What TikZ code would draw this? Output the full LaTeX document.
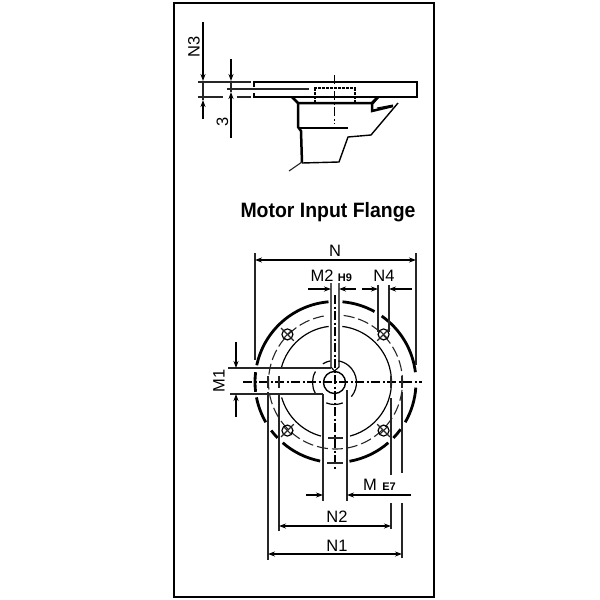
\documentclass[tikz,border=0pt]{standalone}
\usepackage{fontspec}
\setmainfont{Liberation Sans}
\usetikzlibrary{arrows.meta}
\tikzset{
	thin line/.style={line width=1.1pt,color=black!85},
	thick line/.style={line width=2.5pt},
	center line/.style={line width=1.1pt,dash pattern=on 9pt off 2.5pt on 2pt off 2.5pt},
	hidden line/.style={line width=1.1pt,dash pattern=on 2.5pt off 1.5pt},
	dim line/.style={line width=1.1pt,{Stealth[length=7pt,width=5pt]}-{Stealth[length=7pt,width=5pt]}},
	dim end/.style={line width=1.1pt,-{Stealth[length=7pt,width=5pt]}},
	dim label/.style={font=\fontsize{16.5}{16.5}\selectfont,inner sep=0pt},
	small label/.style={font=\fontsize{11}{11}\selectfont\bfseries,inner sep=0pt}
}
\begin{document}
\begin{tikzpicture}[x=1pt,y=-1pt]
	\useasboundingbox (0,0) rectangle (600,600);
	\draw [line width=1.4pt] (174,3) rectangle (434,597);
	% side view
	\draw [thick line] (254,87) -- (254,82) -- (417,82) -- (417,97) -- (254,97) -- (254,93);
	\draw [thick line] (292,97) -- (298,103) -- (372,103) -- (378,97);
	\draw [thick line] (298,103) -- (298,127) -- (301,131) -- (302,163);
	\draw [thick line] (378,97) -- (372,104) -- (372,111) -- (393,106);
	\draw [line width=1.5pt] (298,128) -- (348,128);
	\draw [line width=1.4pt] (302,163) -- (339,162) -- (348,137) -- (371,135) -- (398,103);
	\draw [line width=1pt] (377,108) -- (393,105);
	\draw [thin line] (302,162) -- (289,171);
	\draw [thin line] (198,82) -- (251,82);
	\draw [thin line] (227,89) -- (309,89);
	\draw [thin line] (198,97) -- (223,97);
	\draw [thin line] (237,97) -- (251,97);
	\draw [hidden line] (314,88) -- (356,88);
	\draw [hidden line] (315,88) -- (315,103);
	\draw [hidden line] (355,88) -- (355,103);
	\draw [center line] (334.5,75) -- (334.5,124);
	% N3 and 3
	\draw [dim end] (203,22) -- (203,81);
	\draw [dim end] (203,119) -- (203,100);
	\draw [thin line] (203,81) -- (203,100);
	\draw [dim end] (231,59) -- (231,81);
	\draw [dim end] (231,138) -- (231,92);
	\draw [thin line] (231,81) -- (231,92);
	\node (labelNthree) [dim label,rotate=90] at (194,47) {N3};
	\node (labelThree) [dim label,rotate=90] at (222.5,122) {3};
	% title
	\node (title) [font=\fontsize{20.8}{20.8}\selectfont\bfseries,inner sep=0pt,xscale=0.935] at (328,212) {Motor Input Flange};
	% front view
	\foreach \from/\to in {95/168,173/187,191/210,217/224,229/259,280/311,316/324,330/356,7/55,61/85} {
		\draw [line width=2.8pt] (335.5,382) ++(-\from:80.5) arc (-\from:-\to:80.5);
	}
	\draw [thin line,dash pattern=on 11pt off 4pt] (335.5,382) ++(277:67) arc (277:623:67);
	\foreach \from/\to in {97/165,196/255,285/443} {
		\draw [line width=1.2pt] (335.5,382) ++(-\from:56) arc (-\from:-\to:56);
	}
	\draw [line width=1.4pt] (334.5,382.5) circle (11);
	\foreach \from/\to in {320/440,101/122,150/210,248/292} {
		\draw [line width=1.2pt] (334.5,382.5) ++(-\from:22) arc (-\from:-\to:22);
	}
	\foreach \a in {45,135,225,315} {
		\draw [line width=1.2pt] (335.5,382.5) ++(\a:68) circle (5.5);
		\draw [thin line] (335.5,382.5) ++(\a:59) -- ++(\a:18);
		\draw [thin line] (335.5,382.5) ++(\a:68) ++(\a+90:5.5) -- ++(\a-90:11);
	}
	\draw [center line] (243,382) -- (422,382);
	\draw [center line] (335,295) -- (335,470);
	\draw [thin line] (327,463) -- (343,463);
	\draw [thin line] (328,438) -- (343,438);
	\foreach \tick in {268,279,391,402} {
		\draw [thin line] (\tick,376) -- (\tick,388);
	}
	% key way
	\draw [line width=1.1pt] (331,283) -- (331,367) -- (334.5,371) -- (339,367) -- (339,283);
	% M1
	\draw [thin line] (228,368) -- (331,368);
	\draw [thin line] (230,394) -- (323,394);
	\draw [dim end] (236,342) -- (236,368);
	\draw [dim end] (236,417) -- (236,394);
	\node (labelMone) [dim label,rotate=90] at (219,381) {M1};
	% N
	\draw [thin line] (255,253) -- (255,360);
	\draw [thin line] (416,253) -- (416,365);
	\draw [dim line] (255,260) -- (416,260);
	\node (labelN) [dim label] at (335,251) {N};
	% M2 H9
	\draw [dim end] (308,289) -- (331,289);
	\draw [dim end] (356,289) -- (339,289);
	\node (labelMtwo) [dim label] at (322,276) {M2};
	\node (labelHnine) [small label] at (345,278) {H9};
	% N4
	\draw [thin line] (378,285) -- (378,332);
	\draw [thin line] (389,285) -- (389,332);
	\draw [dim end] (362,289) -- (378,289);
	\draw [dim end] (412,289) -- (389,289);
	\node (labelNfour) [dim label] at (384,276) {N4};
	% N1 N2 M
	\draw [thin line] (268,392) -- (268,560);
	\draw [thin line] (402,392) -- (402,473);
	\draw [thin line] (402,503) -- (402,558);
	\draw [thin line] (279,393) -- (279,531);
	\draw [thin line] (391,398) -- (391,475);
	\draw [thin line] (391,503) -- (391,529);
	\draw [thin line] (323,394) -- (323,501);
	\draw [thin line] (347,390) -- (347,501);
	\draw [dim end] (306,495) -- (323,495);
	\draw [dim end] (411,495) -- (347,495);
	\node (labelM) [dim label] at (370,485) {M};
	\node (labelEseven) [small label] at (389,487) {E7};
	\draw [dim line] (279,526) -- (391,526);
	\node (labelNtwo) [dim label] at (337,517) {N2};
	\draw [dim line] (268,554) -- (402,554);
	\node (labelNone) [dim label] at (337,546) {N1};
\end{tikzpicture}
\end{document}
